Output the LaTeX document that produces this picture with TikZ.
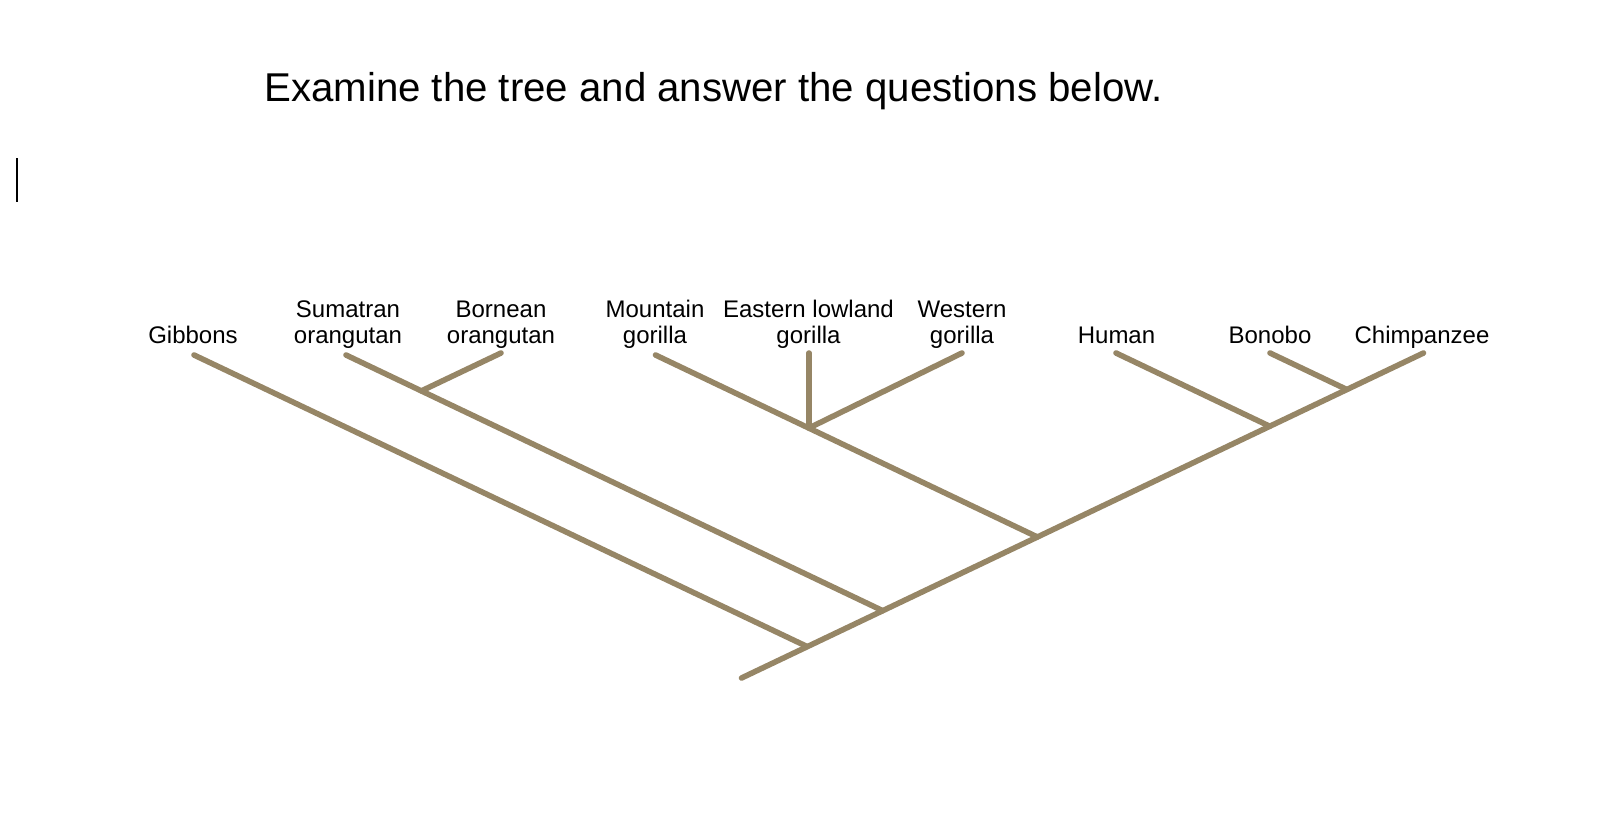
\documentclass[tikz,border=0pt]{standalone}
\usepackage{fontspec}
\setmainfont{Liberation Sans}
\definecolor{branch}{RGB}{150,134,102}
\begin{document}
\begin{tikzpicture}[x=0.5pt,y=-0.5pt,
  br/.style={draw=branch,line width=2.8pt,line cap=round},
  lbl/.style={anchor=base,inner sep=0pt,font=\fontsize{12}{13}\selectfont}]
\useasboundingbox (0,0) rectangle (1606,816);
\node[anchor=base west,inner sep=0pt,font=\fontsize{20.1}{24}\selectfont] (title) at (264,101) {Examine the tree and answer the questions below.};
\coordinate (cur1) at (17,158);
\coordinate (cur2) at (17,202);
\draw[line width=0.7pt] (cur1) -- (cur2);
% labels
\node[lbl] (lGib) at (193,343) {Gibbons};
\node[lbl] (lSum) at (348,343) {\begin{tabular}[b]{@{}c@{}}Sumatran\\orangutan\end{tabular}};
\node[lbl] (lBor) at (501,343) {\begin{tabular}[b]{@{}c@{}}Bornean\\orangutan\end{tabular}};
\node[lbl] (lMou) at (655,343) {\begin{tabular}[b]{@{}c@{}}Mountain\\gorilla\end{tabular}};
\node[lbl] (lEas) at (808.5,343) {\begin{tabular}[b]{@{}c@{}}Eastern lowland\\gorilla\end{tabular}};
\node[lbl] (lWes) at (962,343) {\begin{tabular}[b]{@{}c@{}}Western\\gorilla\end{tabular}};
\node[lbl] (lHum) at (1116.5,343) {Human};
\node[lbl] (lBon) at (1270,343) {Bonobo};
\node[lbl] (lChi) at (1422,343) {Chimpanzee};
% branch tips
\coordinate (tG) at (194,355);
\coordinate (tS) at (346,355);
\coordinate (tB) at (501,353);
\coordinate (tM) at (655.5,355);
\coordinate (tE) at (809,353);
\coordinate (tW) at (962,353);
\coordinate (tH) at (1116,353);
\coordinate (tBo) at (1270,353);
\coordinate (tC) at (1423.5,353);
% junctions
\coordinate (root) at (741.5,678);
\coordinate (jG) at (806.6,646.3);
\coordinate (jS) at (882.7,610.7);
\coordinate (jM) at (1037.4,537);
\coordinate (jH) at (1269.8,426.3);
\coordinate (jBo) at (1346.8,389.5);
\coordinate (jB) at (421.4,390.9);
\coordinate (jGor) at (809,428);
% branches
\draw[br] (root) -- (tC);
\draw[br] (tG) -- (jG);
\draw[br] (tS) -- (jS);
\draw[br] (tB) -- (jB);
\draw[br] (tM) -- (jM);
\draw[br] (tE) -- (jGor);
\draw[br] (tW) -- (jGor);
\draw[br] (tH) -- (jH);
\draw[br] (tBo) -- (jBo);
\end{tikzpicture}
\end{document}
